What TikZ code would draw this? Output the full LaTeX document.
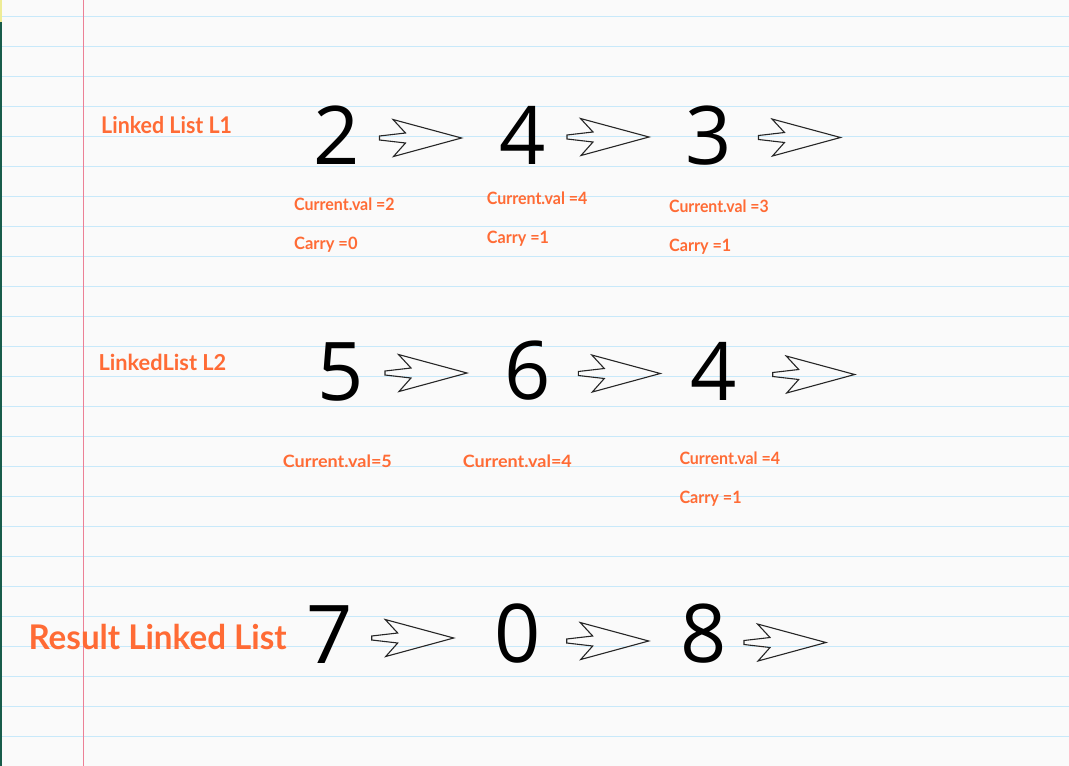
\documentclass[tikz,border=0pt]{standalone}
\usepackage{fontspec}
\setmainfont{Lato}
\newfontfamily\digitfont{Open Sans}
\newcommand\labelsize[2]{\fontsize{#1}{#1}\selectfont\addfontfeatures{FakeStretch=#2}}
\definecolor{noteorange}{RGB}{255,107,53}
\definecolor{ruleblue}{RGB}{200,233,250}
\definecolor{marginred}{RGB}{236,128,150}
\definecolor{paper}{RGB}{250,250,250}
\definecolor{spine}{RGB}{24,92,74}
\definecolor{spineyellow}{RGB}{238,236,150}

\begin{document}
\begin{tikzpicture}[x=1pt, y=-1pt,
    digit/.style={inner sep=0pt, font=\digitfont\fontsize{81}{81}\selectfont},
    listname/.style={anchor=base west, inner sep=0pt, text=noteorange, font=\bfseries\labelsize{23}{#1}},
    listname/.default=0.93,
    note/.style={anchor=base west, inner sep=0pt, text=noteorange, font=\bfseries\labelsize{17}{#1}},
    note/.default=0.94,
    nextptr/.pic={\draw[line width=1.1pt, black!85] (0,-2) -- (26,-5) -- (13.5,-18.5) -- (82,0) -- (14,18.5) -- (26,5) -- (0,2) -- cycle;}]

    % Paper
    \useasboundingbox (0,0) rectangle (1069,766);
    \fill[paper] (0,0) rectangle (1069,766);
    \foreach \k in {0,...,24} {
        \draw[ruleblue, line width=1pt] (0,16+30*\k) -- (1069,16+30*\k);
    }
    \draw[marginred, line width=1pt] (83,0) -- (83,766);
    \fill[spine] (0,0) rectangle (2,766);
    \fill[spineyellow] (0,0) rectangle (2,22);

    % Linked List L1
    \node[listname] (l1name) at (101,133) {Linked List L1};
    \node[digit] (l1a) at (337,135.5) {2};
    \node[digit] (l1b) at (522.5,135) {4};
    \node[digit] (l1c) at (709,136) {3};
    \foreach \px/\py in {379.5/138, 567/137, 758.5/137.5} {
        \pic at (\px,\py) {nextptr};
    }
    \node[note] (l1aval) at (294,210.7) {Current.val =2};
    \node[note=0.97] (l1acarry) at (294,249.3) {Carry =0};
    \node[note] (l1bval) at (486.7,204) {Current.val =4};
    \node[note=0.95] (l1bcarry) at (486.7,243.3) {Carry =1};
    \node[note=0.93] (l1cval) at (669,212.3) {Current.val =3};
    \node[note=0.95] (l1ccarry) at (669,251.7) {Carry =1};

    % LinkedList L2
    \node[listname, font=\bfseries\labelsize{22}{0.99}] (l2name) at (98.3,370.7) {LinkedList L2};
    \node[digit] (l2a) at (341,371.7) {5};
    \node[digit] (l2b) at (528,371) {6};
    \node[digit] (l2c) at (714,371.3) {4};
    \foreach \px/\py in {385/373, 578.3/373.5, 772.7/374.5} {
        \pic at (\px,\py) {nextptr};
    }
    \node[note=1.06] (l2aval) at (282.7,467.3) {Current.val=5};
    \node[note=1.06] (l2bval) at (462.7,467.3) {Current.val=4};
    \node[note] (l2cval) at (679.3,464.3) {Current.val =4};
    \node[note=0.95] (l2ccarry) at (679.3,503.3) {Carry =1};

    % Result Linked List
    \node[listname, font=\bfseries\labelsize{34}{0.975}] (resname) at (28.3,649.3) {Result Linked List};
    \node[digit] (resa) at (329.5,635) {7};
    \node[digit] (resb) at (517.5,634) {0};
    \node[digit] (resc) at (704,633.5) {8};
    \foreach \px/\py in {371.7/638, 566.7/641, 744/642.5} {
        \pic at (\px,\py) {nextptr};
    }

\end{tikzpicture}
\end{document}
